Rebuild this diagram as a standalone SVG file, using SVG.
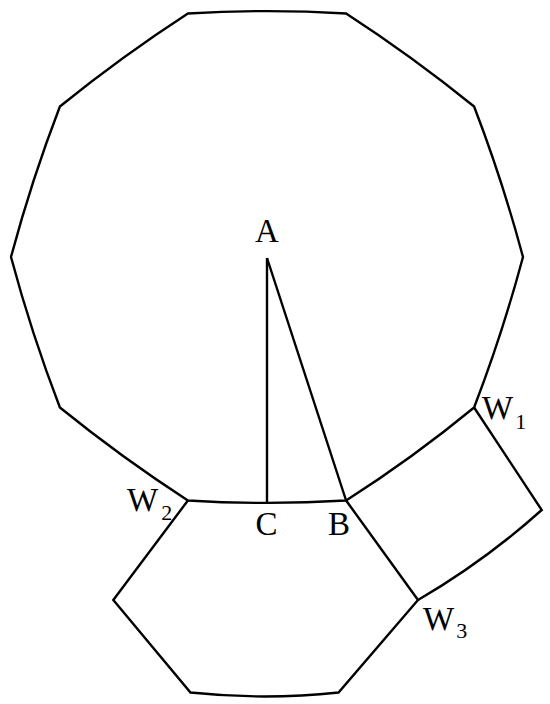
<svg xmlns="http://www.w3.org/2000/svg" width="550" height="704" viewBox="0 0 550 704">
<style>
.ln{fill:none;stroke:#000;stroke-width:2.4;stroke-linejoin:miter}
.lb{font-family:"Liberation Serif","Times New Roman",serif;font-size:33px;fill:#000}
.sb{font-family:"Liberation Serif","Times New Roman",serif;font-size:22px;fill:#000}
</style>
<rect width="550" height="704" fill="#fff"/>
<g id="decagon">
<path class="ln" d="M187.9,13.5 A1300,1300 0 0 1 346.1,13.5 A1500,1500 0 0 1 474.1,106.5 A1500,1500 0 0 1 523,257 A1500,1500 0 0 1 474.1,407.5 A1300,1300 0 0 1 346.1,500.5 A1300,1300 0 0 1 187.9,500.5 A1500,1500 0 0 1 59.9,407.5 A1500,1500 0 0 1 11,257 A1500,1500 0 0 1 59.9,106.5 A1500,1500 0 0 1 187.9,13.5 Z"/>
</g>
<g id="hexagon">
<path class="ln" d="M346.1,500.5 L418,600 L338.5,692.5 A700,700 0 0 1 190.5,692.5 L113.3,600 L187.9,500.5"/>
</g>
<g id="square">
<path class="ln" d="M474.1,407.5 L541.7,510 A750,750 0 0 1 418,600"/>
</g>
<g id="connectors">
<path class="ln" d="M267,258 L267,502.5"/>
<path class="ln" d="M267,258 L346.1,500.5"/>
</g>
<g id="labels">
<text class="lb" x="267" y="242" text-anchor="middle">A</text>
<text class="lb" x="266.5" y="535" text-anchor="middle">C</text>
<text class="lb" x="339" y="535" text-anchor="middle">B</text>
<text class="lb" x="482" y="419">W<tspan class="sb" dx="2" dy="10">1</tspan></text>
<text class="lb" x="127" y="510.5">W<tspan class="sb" dx="3" dy="9">2</tspan></text>
<text class="lb" x="423" y="630">W<tspan class="sb" dx="2" dy="8">3</tspan></text>
</g>
</svg>
